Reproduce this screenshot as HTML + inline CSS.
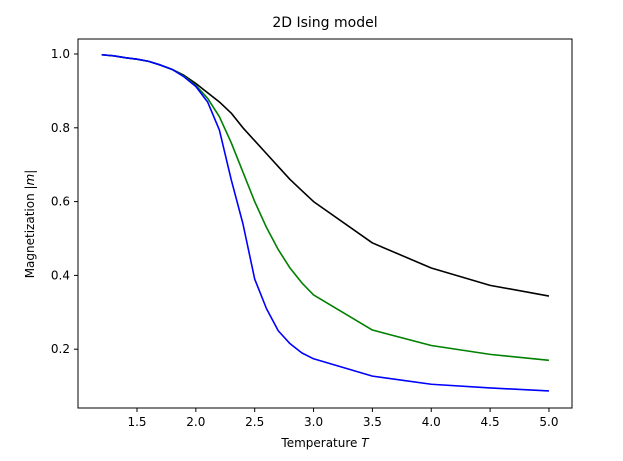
<!DOCTYPE html>
<html><head><meta charset="utf-8"><style>
body{margin:0;background:#fff;font-family:"DejaVu Sans","Liberation Sans",sans-serif;}
svg text{font-family:"DejaVu Sans","Liberation Sans",sans-serif;font-size:12px;fill:#000}
</style></head><body>
<svg id="chart" width="623" height="457">
<rect x="78" y="39" width="494" height="369" fill="none" stroke="#000" stroke-width="1"/>
<text x="325" y="27" text-anchor="middle" style="font-size:14px">2D Ising model</text>
<text x="325" y="447" text-anchor="middle">Temperature <tspan font-style="italic">T</tspan></text>
<text transform="translate(34,224) rotate(-90)" text-anchor="middle">Magnetization |<tspan font-style="italic">m</tspan>|</text>
<g id="ticks"></g><g id="lines"></g>
</svg>
<script>
const temps=[1.2,1.3,1.4,1.5,1.6,1.7,1.8,1.9,2.0,2.1,2.2,2.3,2.4,2.5,2.6,2.7,2.8,2.9,3.0,3.5,4.0,4.5,5.0];
const magBlue=[0.998,0.995,0.99,0.986,0.98,0.97,0.958,0.938,0.912,0.87,0.794,0.66,0.54,0.39,0.31,0.25,0.215,0.19,0.174,0.127,0.105,0.095,0.087];
const magGreen=[0.998,0.995,0.99,0.986,0.98,0.97,0.958,0.94,0.915,0.88,0.83,0.76,0.68,0.6,0.53,0.47,0.42,0.38,0.347,0.252,0.21,0.186,0.17];
const magBlack=[0.998,0.995,0.99,0.986,0.98,0.97,0.958,0.942,0.92,0.895,0.87,0.84,0.8,0.765,0.73,0.695,0.66,0.63,0.6,0.488,0.42,0.373,0.344];
const xTicks=[1.5,2.0,2.5,3.0,3.5,4.0,4.5,5.0];
const yTicks=[0.2,0.4,0.6,0.8,1.0];
const NS="http://www.w3.org/2000/svg";
const X=v=>137+(v-1.5)*117.7;
const Y=v=>54+(1-v)*369;
const tk=document.getElementById('ticks');
xTicks.forEach(t=>{
 const l=document.createElementNS(NS,'line');
 l.setAttribute('x1',X(t));l.setAttribute('x2',X(t));l.setAttribute('y1',408);l.setAttribute('y2',412);l.setAttribute('stroke','#000');
 
 
 tk.appendChild(l);
 const s=document.createElementNS(NS,'text');
 s.setAttribute('x',X(t));s.setAttribute('y',426);s.setAttribute('text-anchor','middle');s.textContent=t.toFixed(1);
 
 
 tk.appendChild(s);
});
yTicks.forEach(t=>{
 const l=document.createElementNS(NS,'line');
 l.setAttribute('x1',74);l.setAttribute('x2',78);l.setAttribute('y1',Y(t));l.setAttribute('y2',Y(t));l.setAttribute('stroke','#000');
 
 
 tk.appendChild(l);
 const s=document.createElementNS(NS,'text');
 s.setAttribute('x',70);s.setAttribute('y',Y(t)+4);s.setAttribute('text-anchor','end');s.textContent=t.toFixed(1);
 
 
 tk.appendChild(s);
});
const lg=document.getElementById('lines');
[[magBlack,'#000','series-black'],[magGreen,'#008000','series-green'],[magBlue,'#0000ff','series-blue']].forEach(([d,c,n])=>{
 const p=document.createElementNS(NS,'polyline');
 p.setAttribute('points',temps.map((t,i)=>X(t)+','+Y(d[i])).join(' '));
 p.setAttribute('fill','none');p.setAttribute('stroke',c);p.setAttribute('stroke-width','1.6');p.setAttribute('stroke-linejoin','round');
 
 
 lg.appendChild(p);
});
</script>
</body></html>
